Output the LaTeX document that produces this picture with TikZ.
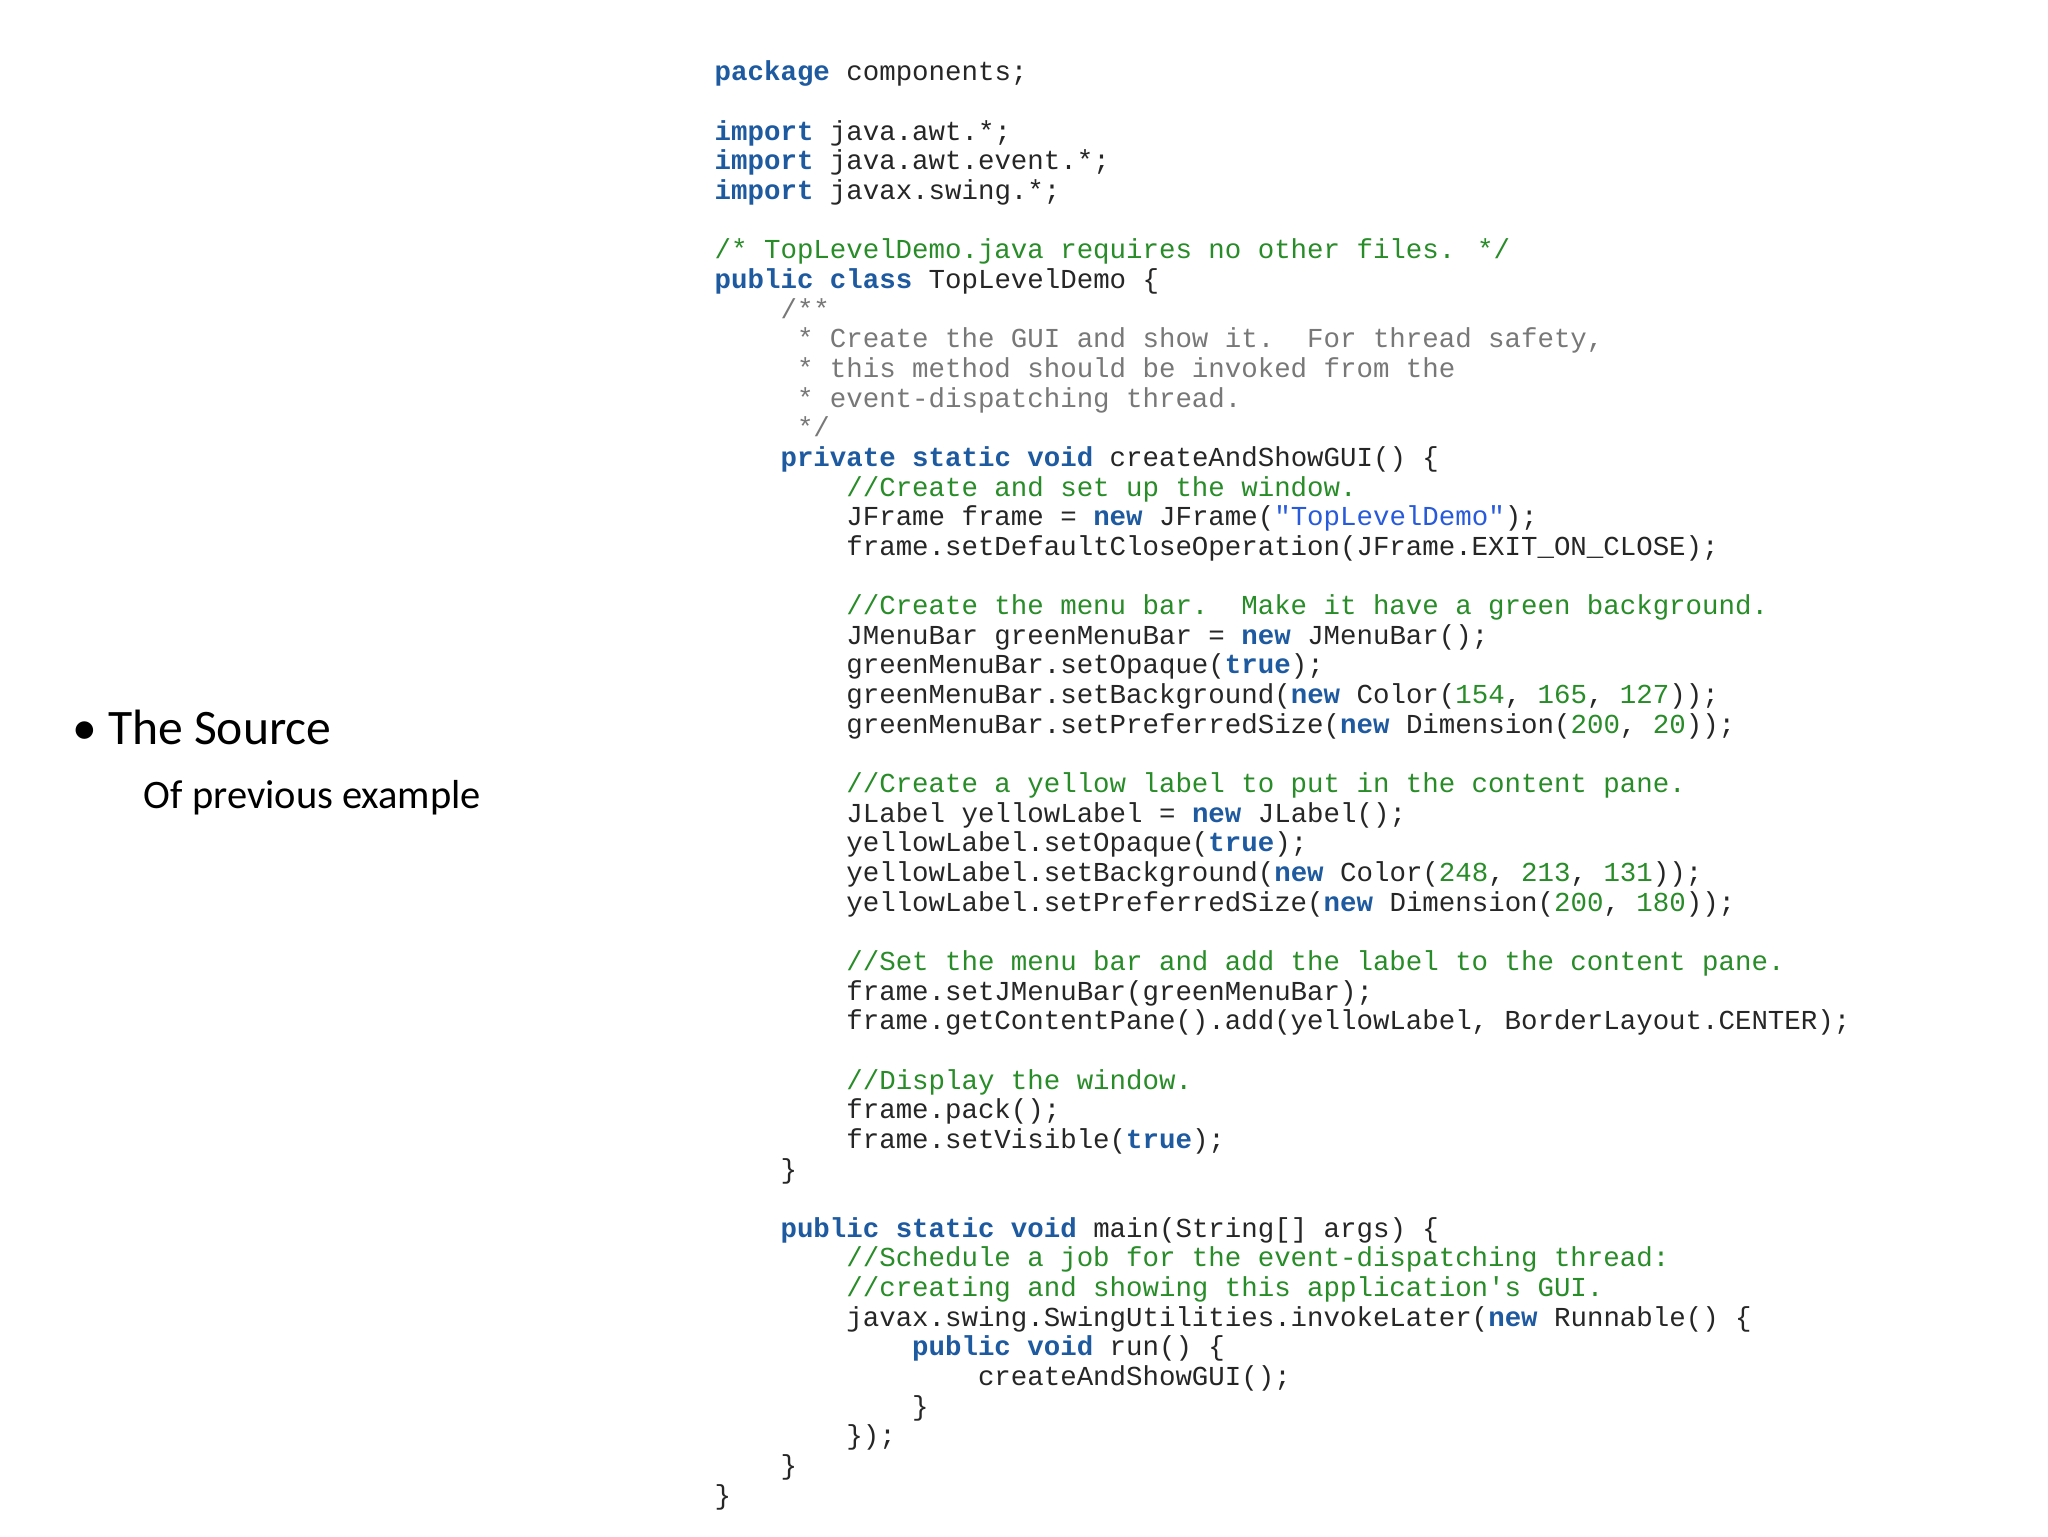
\documentclass[tikz,border=0pt]{standalone}
\usepackage{fontspec}
\setmainfont{Carlito}
\newfontfamily\codefont{Liberation Mono}
\definecolor{kw}{RGB}{30,90,160}
\definecolor{cm}{RGB}{40,140,40}
\definecolor{dc}{RGB}{120,120,120}
\definecolor{st}{RGB}{40,90,220}
\newcommand{\K}[1]{{\bfseries\color{kw}#1}}
\newcommand{\C}[1]{{\color{cm}#1}}
\newcommand{\D}[1]{{\color{dc}#1}}
\newcommand{\Str}[1]{{\color{st}#1}}
\newcommand{\Nm}[1]{{\color{cm}#1}}
\newcommand{\cl}[3]{\node[code] (l#1) at ({547+12.6*#2},{-(62+22.7*#1)}) {#3};}
\begin{document}
\begin{tikzpicture}[x=1pt,y=1pt,
  code/.style={inner sep=0pt,anchor=base west,font=\codefont\fontsize{21}{24}\selectfont,text=black!85}]
\useasboundingbox (0,0) rectangle (1568,-1176);
\fill[white] (0,0) rectangle (1568,-1176);
\node[anchor=base west,inner sep=0pt,font=\fontsize{38}{44}\selectfont] (bul) at (55,-570) {\textbullet\ The Source};
\node[anchor=base west,inner sep=0pt,font=\fontsize{31}{36}\selectfont] (sub) at (110,-619) {Of previous example};
\cl{0}{0}{\K{package} components;}
\cl{2}{0}{\K{import} java.awt.*;}
\cl{3}{0}{\K{import} java.awt.event.*;}
\cl{4}{0}{\K{import} javax.swing.*;}
\cl{6}{0}{\C{/* TopLevelDemo.java requires no other files. */}}
\cl{7}{0}{\K{public} \K{class} TopLevelDemo \{}
\cl{8}{4}{\D{/**}}
\cl{9}{5}{\D{* Create the GUI and show it.\ \ For thread safety,}}
\cl{10}{5}{\D{* this method should be invoked from the}}
\cl{11}{5}{\D{* event-dispatching thread.}}
\cl{12}{5}{\D{*/}}
\cl{13}{4}{\K{private} \K{static} \K{void} createAndShowGUI() \{}
\cl{14}{8}{\C{//Create and set up the window.}}
\cl{15}{8}{JFrame frame = \K{new} JFrame(\Str{"TopLevelDemo"});}
\cl{16}{8}{frame.setDefaultCloseOperation(JFrame.EXIT\_ON\_CLOSE);}
\cl{18}{8}{\C{//Create the menu bar.\ \ Make it have a green background.}}
\cl{19}{8}{JMenuBar greenMenuBar = \K{new} JMenuBar();}
\cl{20}{8}{greenMenuBar.setOpaque(\K{true});}
\cl{21}{8}{greenMenuBar.setBackground(\K{new} Color(\Nm{154}, \Nm{165}, \Nm{127}));}
\cl{22}{8}{greenMenuBar.setPreferredSize(\K{new} Dimension(\Nm{200}, \Nm{20}));}
\cl{24}{8}{\C{//Create a yellow label to put in the content pane.}}
\cl{25}{8}{JLabel yellowLabel = \K{new} JLabel();}
\cl{26}{8}{yellowLabel.setOpaque(\K{true});}
\cl{27}{8}{yellowLabel.setBackground(\K{new} Color(\Nm{248}, \Nm{213}, \Nm{131}));}
\cl{28}{8}{yellowLabel.setPreferredSize(\K{new} Dimension(\Nm{200}, \Nm{180}));}
\cl{30}{8}{\C{//Set the menu bar and add the label to the content pane.}}
\cl{31}{8}{frame.setJMenuBar(greenMenuBar);}
\cl{32}{8}{frame.getContentPane().add(yellowLabel, BorderLayout.CENTER);}
\cl{34}{8}{\C{//Display the window.}}
\cl{35}{8}{frame.pack();}
\cl{36}{8}{frame.setVisible(\K{true});}
\cl{37}{4}{\}}
\cl{39}{4}{\K{public} \K{static} \K{void} main(String[] args) \{}
\cl{40}{8}{\C{//Schedule a job for the event-dispatching thread:}}
\cl{41}{8}{\C{//creating and showing this application's GUI.}}
\cl{42}{8}{javax.swing.SwingUtilities.invokeLater(\K{new} Runnable() \{}
\cl{43}{12}{\K{public} \K{void} run() \{}
\cl{44}{16}{createAndShowGUI();}
\cl{45}{12}{\}}
\cl{46}{8}{\});}
\cl{47}{4}{\}}
\cl{48}{0}{\}}
\end{tikzpicture}
\end{document}
